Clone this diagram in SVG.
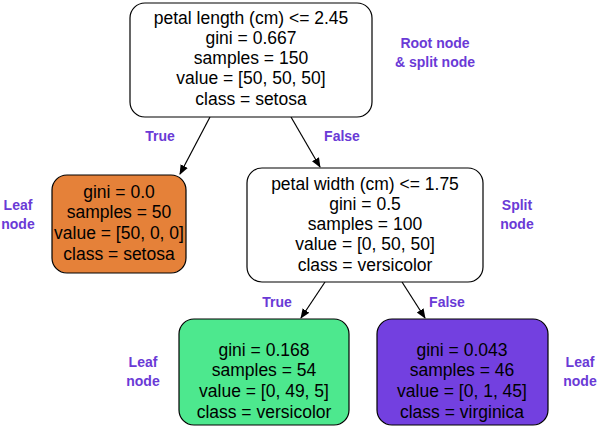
<svg xmlns="http://www.w3.org/2000/svg" width="600" height="430" viewBox="0 0 600 430">
<style>
.n{stroke:#000;stroke-width:1.2}
.t{font-family:"Liberation Sans",Arial,sans-serif;font-size:17.5px;text-anchor:middle;fill:#000}
.l{font-family:"Liberation Sans",Arial,sans-serif;font-size:14px;font-weight:bold;fill:#6a3ad6;text-anchor:middle}
.e{stroke:#000;stroke-width:1.2;fill:none;marker-end:url(#a)}
</style>
<defs><marker id="a" markerWidth="10" markerHeight="10" refX="9" refY="5" orient="auto" markerUnits="userSpaceOnUse"><path d="M0,1 L10,5 L0,9 z" fill="#000"/></marker></defs>
<rect width="600" height="430" fill="#fff"/>
<g id="connectors">
<line class="e" x1="210" y1="117" x2="180" y2="174"/>
<line class="e" x1="291" y1="117" x2="320" y2="167"/>
<line class="e" x1="325" y1="282" x2="301" y2="318"/>
<line class="e" x1="402" y1="282" x2="425" y2="318"/>
<text class="l" x="160" y="141">True</text>
<text class="l" x="342" y="141">False</text>
<text class="l" x="277" y="307">True</text>
<text class="l" x="447" y="307">False</text>
</g>
<g id="root"><rect class="n" x="130" y="3" width="242" height="114" rx="15" fill="#fff"/>
<text class="t" x="251" y="24">petal length (cm) &lt;= 2.45</text>
<text class="t" x="251" y="44">gini = 0.667</text>
<text class="t" x="251" y="64">samples = 150</text>
<text class="t" x="251" y="84">value = [50, 50, 50]</text>
<text class="t" x="251" y="105">class = setosa</text></g>
<g id="leaf1"><rect class="n" x="52" y="175" width="134" height="98" rx="15" fill="#e58139"/>
<text class="t" x="119" y="198">gini = 0.0</text>
<text class="t" x="119" y="218">samples = 50</text>
<text class="t" x="119" y="239">value = [50, 0, 0]</text>
<text class="t" x="119" y="260">class = setosa</text></g>
<g id="split"><rect class="n" x="247" y="168" width="236" height="114" rx="15" fill="#fff"/>
<text class="t" x="365" y="190">petal width (cm) &lt;= 1.75</text>
<text class="t" x="365" y="210">gini = 0.5</text>
<text class="t" x="365" y="230">samples = 100</text>
<text class="t" x="365" y="250">value = [0, 50, 50]</text>
<text class="t" x="365" y="271">class = versicolor</text></g>
<g id="leaf2"><rect class="n" x="179" y="319" width="170" height="106" rx="15" fill="#4de88e"/>
<text class="t" x="264" y="356">gini = 0.168</text>
<text class="t" x="264" y="376">samples = 54</text>
<text class="t" x="264" y="397">value = [0, 49, 5]</text>
<text class="t" x="264" y="418">class = versicolor</text></g>
<g id="leaf3"><rect class="n" x="377" y="319" width="171" height="106" rx="15" fill="#7340e0"/>
<text class="t" x="462" y="356">gini = 0.043</text>
<text class="t" x="462" y="376">samples = 46</text>
<text class="t" x="462" y="397">value = [0, 1, 45]</text>
<text class="t" x="462" y="418">class = virginica</text></g>
<g id="annotations">
<text class="l" x="435" y="48">Root node</text>
<text class="l" x="435" y="67">&amp; split node</text>
<text class="l" x="18" y="210">Leaf</text>
<text class="l" x="18" y="229">node</text>
<text class="l" x="517" y="210">Split</text>
<text class="l" x="517" y="229">node</text>
<text class="l" x="143" y="367">Leaf</text>
<text class="l" x="143" y="386">node</text>
<text class="l" x="580" y="367">Leaf</text>
<text class="l" x="580" y="386">node</text>
</g>
</svg>
